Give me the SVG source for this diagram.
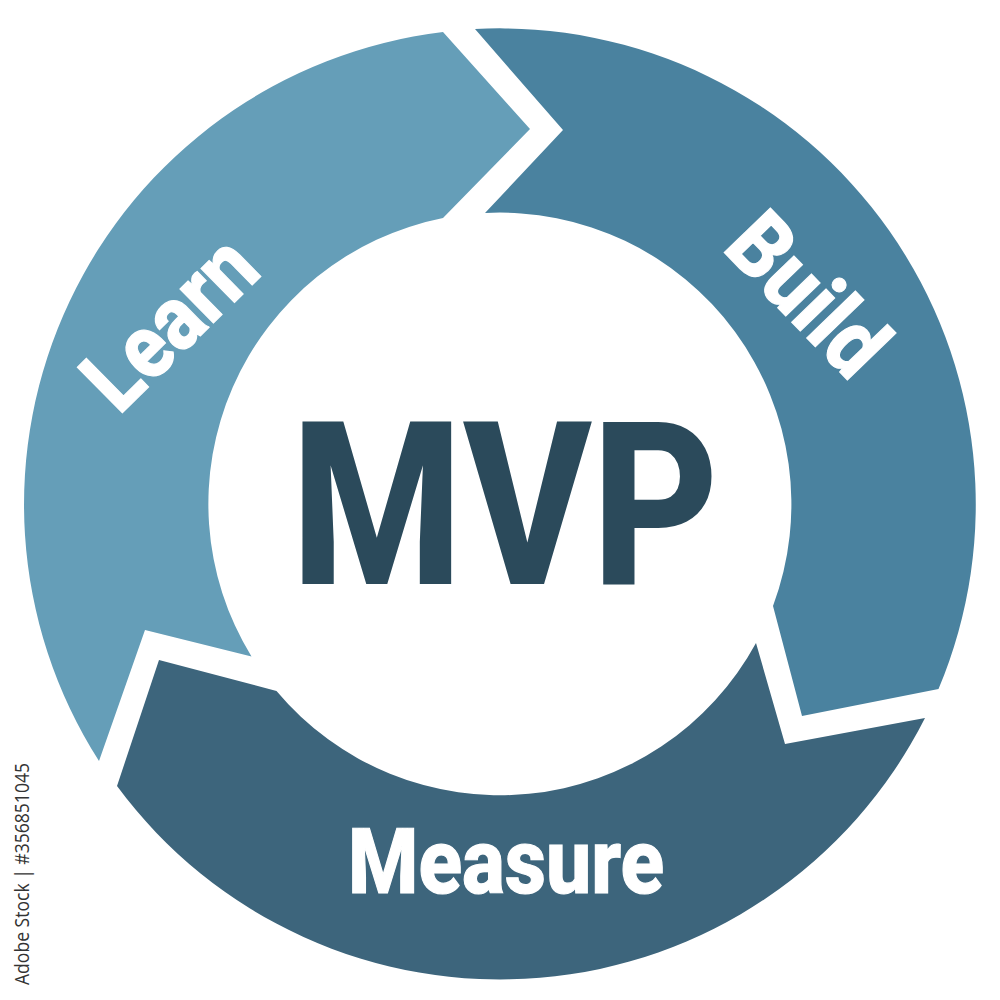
<svg xmlns="http://www.w3.org/2000/svg" width="1000" height="1000" viewBox="0 0 1000 1000">
<style>
.lbl{font-family:Roboto,"Liberation Sans",sans-serif;font-weight:800;fill:#fff;stroke:#fff;stroke-width:1.2px;font-size:90px}
</style>
<rect width="1000" height="1000" fill="#fff"/>
<g id="learn"><path d="M443 32 L530 129 L443 218 A291.5 291.5 0 0 0 251.5 656.5 L145 630 L99 761 A476 476 0 0 1 443 32 Z" fill="#659eb8"/>
<text class="lbl" textLength="203" lengthAdjust="spacingAndGlyphs" transform="translate(119 416) rotate(-44.6)">Learn</text></g>
<g id="build"><path d="M475 29 A476 476 0 0 1 938.5 689 L802 716 L773 606 A291.5 291.5 0 0 0 485 213 L563 130 Z" fill="#4a829f"/>
<text class="lbl" textLength="186" lengthAdjust="spacingAndGlyphs" transform="translate(721 249) rotate(46)">Build</text></g>
<g id="measure"><path d="M159 660 L276.5 691 A291.5 291.5 0 0 0 756 643 L785 744 L925 718 A476 476 0 0 1 117 786 Z" fill="#3d657c"/>
<text class="lbl" textLength="316" lengthAdjust="spacingAndGlyphs" x="348" y="893">Measure</text></g>
<g id="center"><text x="291" y="584" textLength="428" lengthAdjust="spacingAndGlyphs" font-family="Roboto,'Liberation Sans',sans-serif" font-weight="800" font-size="228" fill="#2b4a5b">MVP</text></g>
<text transform="translate(29 985) rotate(-90)" textLength="222" lengthAdjust="spacingAndGlyphs" font-family="'Open Sans','Liberation Sans',sans-serif" font-size="20" fill="#333">Adobe Stock | #356851045</text>
</svg>
